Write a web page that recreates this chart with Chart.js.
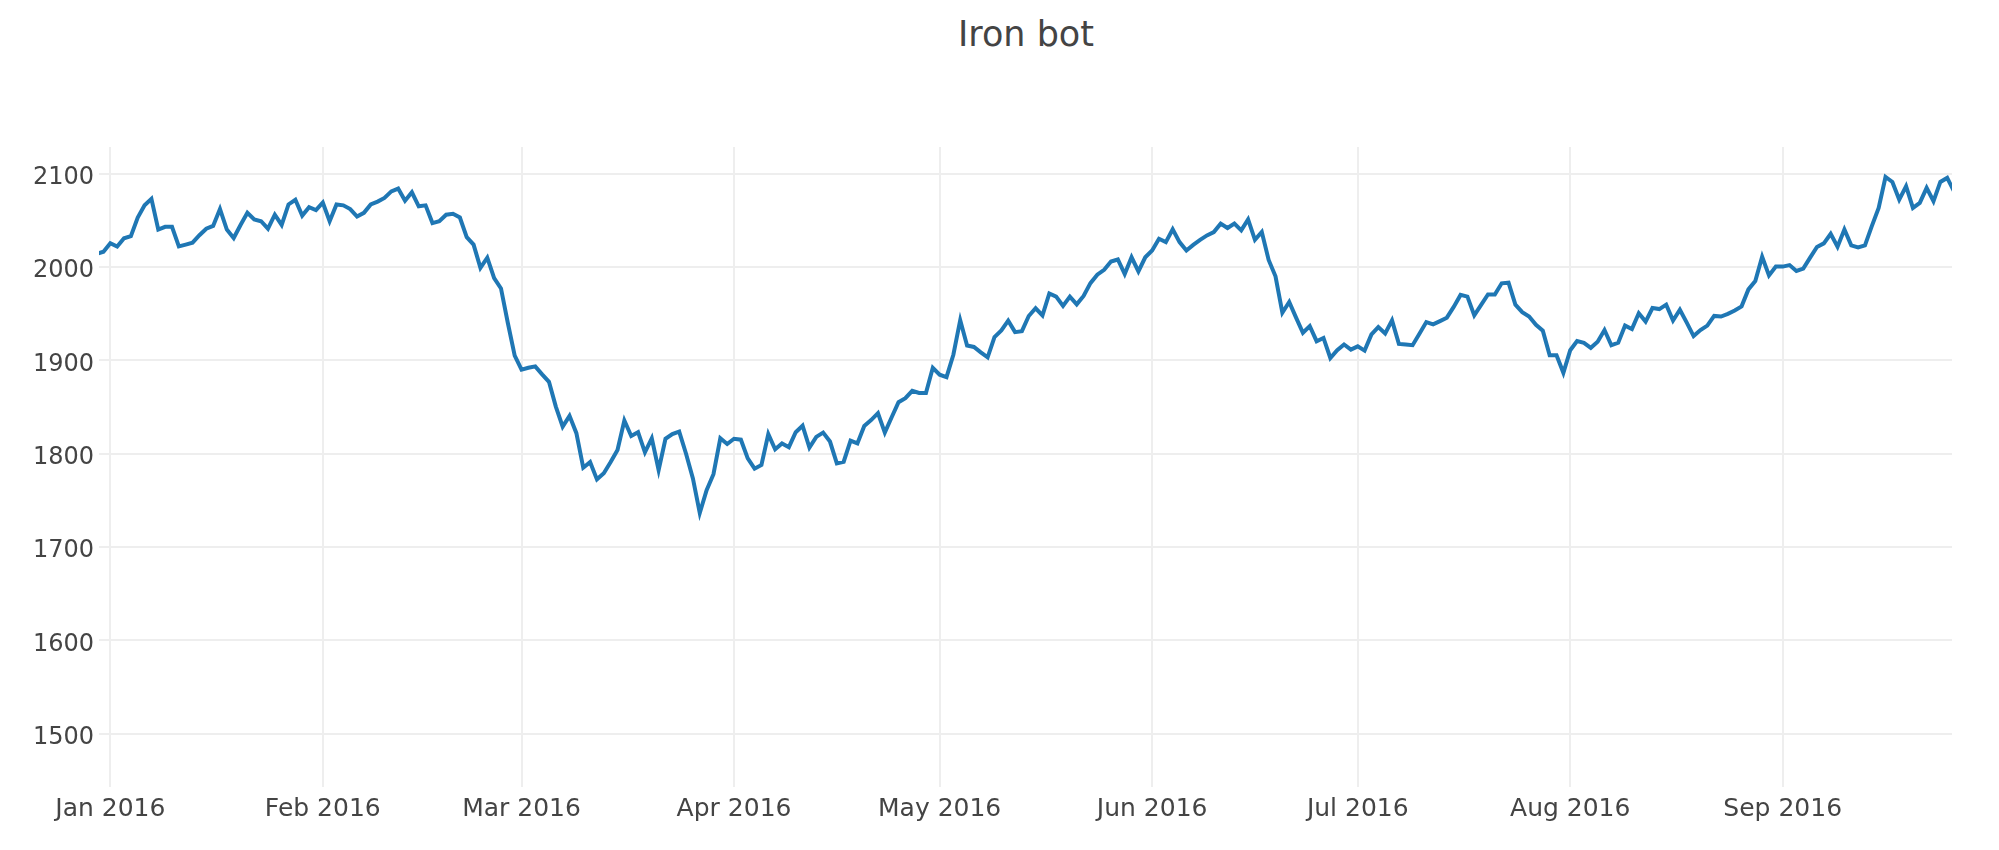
<!DOCTYPE html>
<html>
<head>
<meta charset="utf-8">
<title>Iron bot</title>
<script src="https://cdn.jsdelivr.net/npm/chart.js@4.4.1/dist/chart.umd.min.js"></script>
<style>
  html, body { margin: 0; padding: 0; background: #fff; overflow: hidden; }
  #wrap { position: relative; width: 1999px; height: 850px; }
  #title {
    position: absolute; top: 17px; left: 1026px; transform: translateX(-50%);
    font-family: "DejaVu Sans", Verdana, sans-serif; font-size: 35px; line-height: 35px;
    color: #444; white-space: nowrap;
  }
  #chart { position: absolute; left: 0; top: 0; }
</style>
</head>
<body>
<div id="wrap">
  <div id="title">Iron bot</div>
  <canvas id="chart" width="1999" height="850"></canvas>
</div>
<script>
// day index of first value (0 = 1 Jan 2016), one value per day
const firstDay = -2;
const closes = [
  2014, 2016.4, 2025.4, 2021.8, 2030.7, 2033, 2053, 2066, 2073, 2040,
  2043, 2043, 2022, 2024, 2026, 2034, 2041, 2044, 2062, 2040,
  2031, 2045, 2058, 2051, 2049, 2041, 2056, 2045, 2067, 2072,
  2055, 2064, 2061, 2069, 2049, 2067, 2066, 2062, 2054, 2058,
  2067, 2070, 2074, 2081, 2084, 2071, 2080, 2065, 2066, 2047,
  2049, 2056, 2057, 2053, 2032, 2024, 1999, 2010, 1988, 1977,
  1940, 1905, 1890, 1892, 1893.5, 1885, 1877, 1850.5, 1829, 1840.5,
  1822, 1785, 1791, 1772.5, 1779, 1791, 1804, 1835.5, 1819, 1823,
  1801.5, 1816.5, 1782.5, 1816, 1821, 1823.7, 1800, 1773.5, 1736.5, 1761,
  1778, 1816.5, 1810.4, 1816, 1815, 1795, 1784, 1788, 1821, 1804.7,
  1811, 1807, 1823, 1830, 1806.5, 1818, 1822.6, 1813, 1789.6, 1791.4,
  1814, 1811, 1829.7, 1836, 1843.4, 1822.6, 1839, 1855.2, 1859.5, 1867.4,
  1865, 1865, 1892, 1884.6, 1882, 1906, 1943, 1915.8, 1914.3, 1908.6,
  1903.2, 1925, 1932, 1942.5, 1930.2, 1931.3, 1947.5, 1955.8, 1948.2, 1971.6,
  1968.3, 1958.3, 1968.3, 1960, 1969, 1982.7, 1991.7, 1997, 2005.8, 2008,
  1992.4, 2010.4, 1995.3, 2010.4, 2017.6, 2030.2, 2026.6, 2040.3, 2026.6, 2017.6,
  2023.7, 2029, 2033.8, 2037.4, 2046.4, 2041.7, 2046.4, 2039.2, 2051, 2029,
  2037.4, 2007.5, 1990, 1951, 1962.6, 1945.7, 1929.5, 1936.7, 1920.5, 1924,
  1902.5, 1910.8, 1917, 1911.5, 1915, 1910.4, 1927.7, 1935.6, 1928.8, 1942.8,
  1917.6, 1917, 1916.2, 1928.4, 1941, 1938.5, 1942, 1945.7, 1957.2, 1970.1,
  1968.3, 1948.2, 1959.4, 1970.5, 1970.5, 1982.5, 1983.2, 1959.6, 1951.6, 1947,
  1938, 1931.8, 1905.4, 1905.4, 1886.6, 1910.8, 1920.6, 1918.8, 1913.4, 1919.9,
  1932.5, 1916.2, 1918.8, 1937.2, 1933.6, 1950.5, 1941.5, 1956, 1954.9, 1959.6,
  1942.6, 1954.2, 1940.4, 1926, 1932.5, 1937.2, 1947.6, 1946.9, 1949.8, 1953.4,
  1957.8, 1976, 1985, 2011, 1991, 2000.4, 2000.4, 2002, 1995.7, 1998.2,
  2010, 2021.4, 2025.3, 2035.6, 2021.7, 2040.2, 2023.1, 2021, 2023.1, 2043.8,
  2063.3, 2096.4, 2091.1, 2072.2, 2086.5, 2063.3, 2068.7, 2084.7, 2070.5, 2091.1,
  2095.4, 2081
];
const monthDays = [0, 31, 60, 91, 121, 152, 182, 213, 244];
const monthLabels = ['Jan 2016', 'Feb 2016', 'Mar 2016', 'Apr 2016', 'May 2016',
                     'Jun 2016', 'Jul 2016', 'Aug 2016', 'Sep 2016'];
const yTicks = [1500, 1600, 1700, 1800, 1900, 2000, 2100];

const points = closes.map((v, i) => ({x: firstDay + i, y: v}));
const fontFamily = '"DejaVu Sans", Verdana, sans-serif';

new Chart(document.getElementById('chart'), {
  type: 'line',
  data: {
    datasets: [{
      label: 'Iron bot',
      data: points,
      borderColor: '#1f77b4',
      borderWidth: 4,
      pointRadius: 0,
      tension: 0,
      clip: 0
    }]
  },
  options: {
    responsive: false,
    animation: false,
    layout: {padding: {top: 147, right: 47, left: 0, bottom: 0}},
    plugins: {legend: {display: false}, tooltip: {enabled: false}, title: {display: false}},
    scales: {
      x: {
        type: 'linear',
        min: -1.65,
        max: 268.7,
        afterBuildTicks: s => { s.ticks = monthDays.map(v => ({value: v})); },
        afterFit: s => { s.height = 63; },
        ticks: {
          font: {family: fontFamily, size: 25}, color: '#444', padding: 7,
          maxRotation: 0, autoSkip: false,
          callback: v => monthLabels[monthDays.indexOf(v)]
        },
        grid: {color: '#eeeeee', lineWidth: 2, drawTicks: false},
        border: {display: false}
      },
      y: {
        min: 1443,
        max: 2128.5,
        afterBuildTicks: s => { s.ticks = yTicks.map(v => ({value: v})); },
        afterFit: s => { s.width = 99; },
        ticks: {
          font: {family: fontFamily, size: 24}, color: '#444', padding: 5, labelOffset: 4,
          callback: v => String(v)
        },
        grid: {color: '#eeeeee', lineWidth: 2, drawTicks: false},
        border: {display: false}
      }
    }
  }
});
</script>
</body>
</html>
